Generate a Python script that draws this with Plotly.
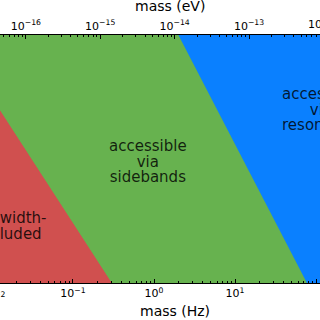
import plotly.graph_objects as go

# ---------------- data ----------------
# vertical position of each boundary point (fraction of plot height, bottom -> top)
y_levels = [0.0, 1.0]
# red / green boundary (mass in Hz) at bottom and top of the plot
sideband_limit_hz = [0.303, 0.00317]
# green / blue boundary (mass in Hz) at bottom and top of the plot
resonance_limit_hz = [77.1, 2.00]
# far extents used to close the outer regions (beyond the visible window)
far_left_hz = 1e-4
far_right_hz = 1e4

region_labels = {
    "precluded": ["bandwidth-", "precluded"],
    "sidebands": ["accessible", "via", "sidebands"],
    "resonance": ["accessible", "via", "resonance"],
}

hz_tick_vals = [1e-2, 1e-1, 1e0, 1e1, 1e2]
hz_tick_text = ["10<sup>\u22122</sup>", "10<sup>\u22121</sup>", "10<sup>0</sup>",
                "10<sup>1</sup>", "10<sup>2</sup>"]
ev_tick_vals = [1e-16, 1e-15, 1e-14, 1e-13, 1e-12]
ev_tick_text = ["10<sup>\u221216</sup>", "10<sup>\u221215</sup>", "10<sup>\u221214</sup>",
                "10<sup>\u221213</sup>", "10<sup>\u221212</sup>"]

# visible axis windows (log10)
hz_range = [-1.900, 2.048]
ev_range = [-16.347, -12.046]

# ---------------- style ----------------
RED = "#d0504f"
GREEN = "#67b24f"
BLUE = "#0a80ff"
FONT = "DejaVu Sans"
TXT = "rgba(0,0,0,0.82)"

W, H = 320, 320
M_T, M_B = 35, 37
PLOT_H = H - M_T - M_B


def py(pix):
    """pixel row -> paper y"""
    return (H - M_B - pix) / PLOT_H


def px(pix):
    return pix / W


fig = go.Figure()

# red region (left of sideband limit)
fig.add_trace(go.Scatter(
    x=[far_left_hz, sideband_limit_hz[0], sideband_limit_hz[1], far_left_hz],
    y=[y_levels[0], y_levels[0], y_levels[1], y_levels[1]],
    fill="toself", fillcolor=RED, line=dict(width=0), mode="lines",
    hoverinfo="skip", showlegend=False))
# green region
fig.add_trace(go.Scatter(
    x=[sideband_limit_hz[0], resonance_limit_hz[0], resonance_limit_hz[1], sideband_limit_hz[1]],
    y=[y_levels[0], y_levels[0], y_levels[1], y_levels[1]],
    fill="toself", fillcolor=GREEN, line=dict(width=0), mode="lines",
    hoverinfo="skip", showlegend=False))
# blue region
fig.add_trace(go.Scatter(
    x=[resonance_limit_hz[0], far_right_hz, far_right_hz, resonance_limit_hz[1]],
    y=[y_levels[0], y_levels[0], y_levels[1], y_levels[1]],
    fill="toself", fillcolor=BLUE, line=dict(width=0), mode="lines",
    hoverinfo="skip", showlegend=False))
# dummy trace to host the top (eV) axis
fig.add_trace(go.Scatter(x=[ev_tick_vals[1]], y=[None], xaxis="x2", yaxis="y",
                         mode="lines", showlegend=False, hoverinfo="skip"))

axis_common = dict(
    type="log", showgrid=False, zeroline=False, showline=True, linecolor="black",
    linewidth=1, ticks="inside", ticklen=4, tickcolor="black", tickwidth=1,
    tickmode="array", tickfont=dict(family=FONT, size=11, color="black"),
    minor=dict(ticks="inside", ticklen=2, tickcolor="black", tickwidth=0.8,
               dtick="D1", showgrid=False),
)

fig.update_layout(
    width=W, height=H,
    margin=dict(l=0, r=0, t=M_T, b=M_B, pad=0),
    paper_bgcolor="white", plot_bgcolor=GREEN,
    showlegend=False,
    xaxis=dict(range=hz_range, tickvals=hz_tick_vals, ticktext=hz_tick_text,
               side="bottom", **axis_common),
    xaxis2=dict(range=ev_range, tickvals=ev_tick_vals, ticktext=ev_tick_text,
                overlaying="x", side="top", anchor="y", **axis_common),
    yaxis=dict(range=[0, 1], visible=False, fixedrange=True),
)

ann = []
tick_font = dict(family=FONT, size=11, color="black")
# partially visible tick labels at the window edges
ann.append(dict(text=hz_tick_text[0], xref="paper", yref="paper",
                x=px(-8.0), y=py(297), xanchor="center", yanchor="middle",
                showarrow=False, font=tick_font))
ann.append(dict(text=ev_tick_text[4], xref="paper", yref="paper",
                x=px(323.4), y=py(24), xanchor="center", yanchor="middle",
                showarrow=False, font=tick_font))

# axis titles
ann.append(dict(text="mass (eV)", xref="paper", yref="paper", x=px(170), y=py(6.5),
                xanchor="center", yanchor="middle", showarrow=False,
                font=dict(family=FONT, size=14, color="black")))
ann.append(dict(text="mass (Hz)", xref="paper", yref="paper", x=px(174.5), y=py(311),
                xanchor="center", yanchor="middle", showarrow=False,
                font=dict(family=FONT, size=14, color="black")))


# region labels: base font 12 sets the (tight) line spacing, glyphs drawn at 15 px
def add_block(lines, cx, center_pix):
    text = "<br>".join(f"<span style='font-size:15px'>{t}</span>" for t in lines)
    ann.append(dict(text=text, xref="paper", yref="paper", x=px(cx), y=py(center_pix),
                    xanchor="center", yanchor="middle", align="center",
                    showarrow=False, font=dict(family=FONT, size=12, color=TXT)))


add_block(region_labels["precluded"], 4.0, 226.0)
add_block(region_labels["sidebands"], 147.5, 161.0)
add_block(region_labels["resonance"], 321.0, 110.0)

fig.update_layout(annotations=ann)

fig.write_html("out.html")
